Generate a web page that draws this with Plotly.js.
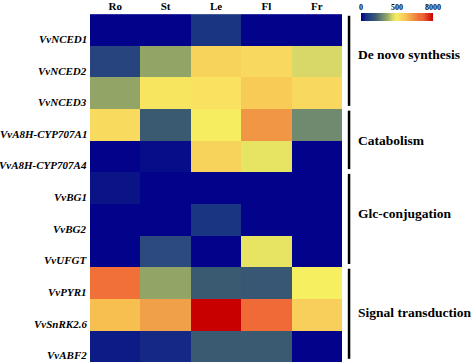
<!DOCTYPE html>
<html><head><meta charset="utf-8">
<script src="https://cdn.plot.ly/plotly-3.0.1.min.js"></script>
<style>html,body{margin:0;padding:0;background:#fff}#c{width:474px;height:362px}</style>
</head><body><div id="c"></div>
<script>
var tissues = ["Ro","St","Le","Fl","Fr"];
var genes = ["VvNCED1","VvNCED2","VvNCED3","VvA8H-CYP707A1","VvA8H-CYP707A4","VvBG1","VvBG2","VvUFGT","VvPYR1","VvSnRK2.6","VvABF2"];
var expr = [
  [5, 5, 80, 5, 5],
  [130, 360, 1500, 1300, 440],
  [360, 800, 900, 2000, 1300],
  [1200, 200, 560, 3800, 300],
  [5, 20, 1500, 470, 5],
  [30, 5, 5, 5, 5],
  [5, 5, 80, 5, 5],
  [5, 150, 5, 470, 5],
  [5000, 360, 200, 190, 520],
  [2500, 3500, 8000, 5500, 1700],
  [40, 60, 200, 200, 5]
];
var groups = ["De novo synthesis","Catabolism","Glc-conjugation","Signal transduction"];
var groupStart = [0, 3, 5, 8];
var groupEnd = [2, 4, 7, 10];
var groupLabelPos = [0.76, 3.5, 5.81, 8.93];
var cbLabels = ["0","500","8000"];

// piecewise colour mapping: 0-500 -> lower half, 500-8000 -> upper half
function toScale(v){ return v <= 500 ? v/1000 : 0.5 + (v-500)/15000; }
var z = expr.map(function(r){ return r.map(toScale); });

var cs = [
  [0, "#00008a"],
  [0.08, "#1a3582"],
  [0.15, "#2c4a7e"],
  [0.2, "#3a5a72"],
  [0.3, "#708a70"],
  [0.36, "#92a466"],
  [0.44, "#d8d868"],
  [0.5, "#f6f060"],
  [0.53, "#f8e060"],
  [0.57, "#f8d25c"],
  [0.62, "#f8c452"],
  [0.7, "#f0a048"],
  [0.8, "#f07038"],
  [0.86, "#ee6636"],
  [1, "#c80000"]
];

var serif = "Liberation Serif, Times New Roman, serif";

var trace = {
  type: "heatmap", x: tissues, y: genes, z: z,
  zmin: 0, zmax: 1, colorscale: cs,
  colorbar: {
    orientation: "h", x: 1.075, xanchor: "left", y: 1, yanchor: "top",
    len: 72, lenmode: "pixels", thickness: 8, thicknessmode: "pixels",
    outlinewidth: 0, xpad: 0, ypad: 0, showticklabels: false, ticks: ""
  },
  hoverinfo: "skip"
};

var ann = [];
genes.forEach(function(g, i){
  ann.push({x: 0, xref: "paper", y: i, yref: "y", text: "<b><i>" + g + "</i></b>", showarrow: false,
    xanchor: "right", yanchor: "middle", xshift: -1, yshift: -9,
    font: {family: serif, size: 11, color: "#000"}});
});
var shapes = [];
groups.forEach(function(g, i){
  shapes.push({type: "line", xref: "paper", yref: "y", x0: 1.028, x1: 1.028,
    y0: groupStart[i] - 0.45, y1: groupEnd[i] + 0.4, line: {color: "#000", width: 2.5}});
  ann.push({x: 1.056, xref: "paper", y: groupLabelPos[i], yref: "y", text: "<b>" + g + "</b>",
    showarrow: false, xanchor: "left", yanchor: "middle",
    font: {family: serif, size: 13.5, color: "#000"}});
});
var cbPos = [1.075, 1.075 + 36/252, 1.075 + 72/252];
cbLabels.forEach(function(t, i){
  ann.push({x: cbPos[i], xref: "paper", y: 1, yref: "paper", yshift: 6, text: "<b>" + t + "</b>",
    showarrow: false, xanchor: "center", yanchor: "middle",
    font: {family: serif, size: 8, color: "#000"}});
});

var layout = {
  width: 474, height: 362,
  margin: {l: 90, r: 132, t: 13, b: 0, pad: 0},
  paper_bgcolor: "#fff", plot_bgcolor: "#fff",
  xaxis: {side: "top", type: "category", ticks: "", showgrid: false, zeroline: false, showline: false,
    tickfont: {family: serif, size: 11, color: "#000", weight: "bold"}, automargin: false, ticklabelstandoff: 0},
  yaxis: {type: "category", autorange: "reversed", showticklabels: false, ticks: "", showgrid: false,
    zeroline: false, showline: false, automargin: false},
  annotations: ann, shapes: shapes, showlegend: false
};
Plotly.newPlot("c", [trace], layout, {displayModeBar: false, staticPlot: true});
</script></body></html>
